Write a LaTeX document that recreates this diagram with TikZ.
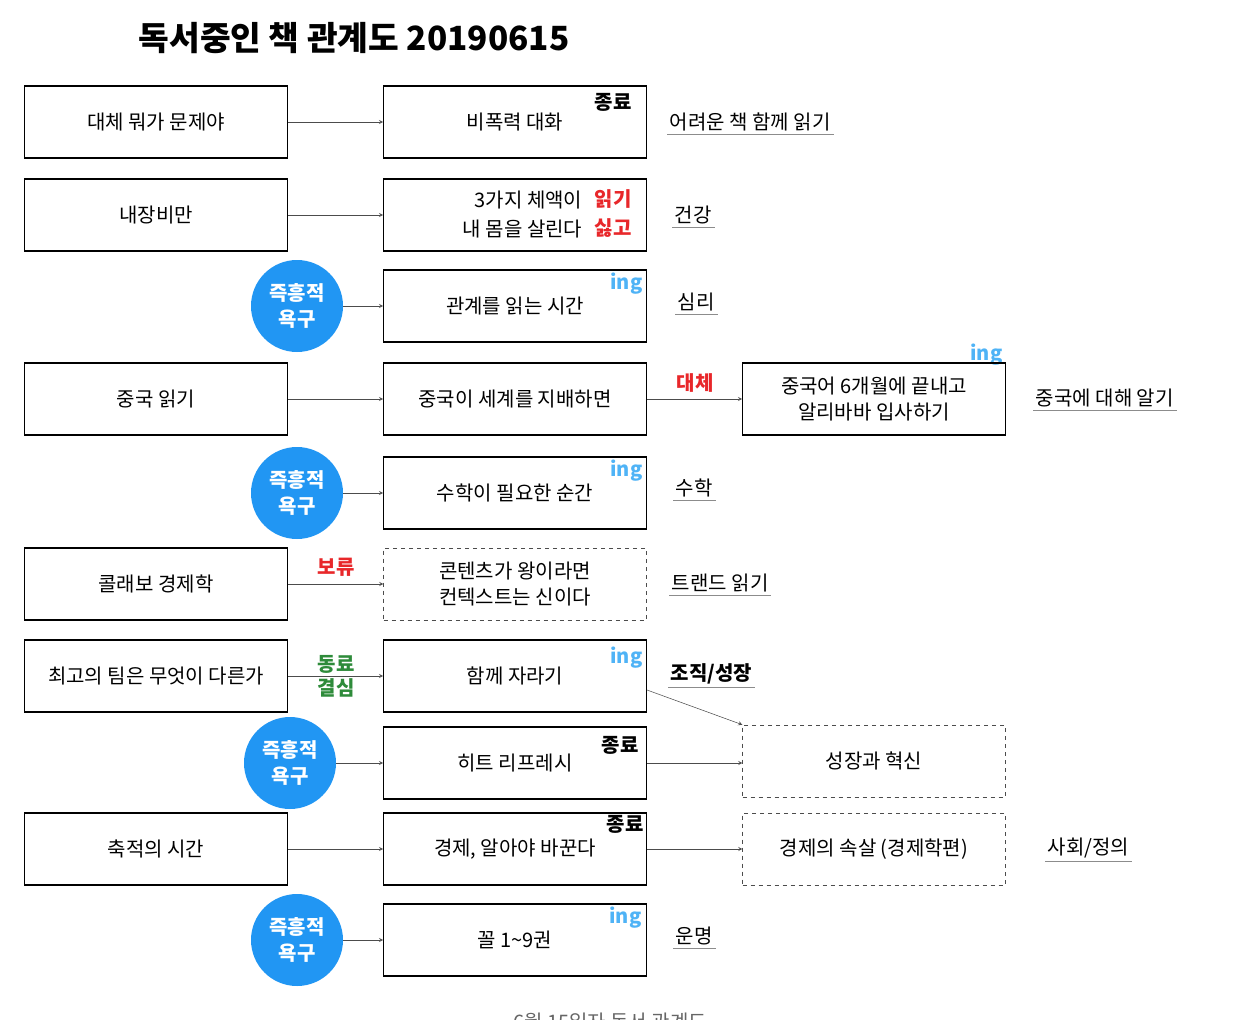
\documentclass[tikz,border=0pt]{standalone}
\usepackage{fontspec}
\setmainfont{Noto Sans CJK KR}
\definecolor{cblue}{HTML}{2196F3}
\definecolor{ingblue}{HTML}{4FB3F6}
\definecolor{kred}{HTML}{E8272A}
\definecolor{kgreen}{HTML}{2E8B3A}
\begin{document}
\begin{tikzpicture}[x=0.75pt,y=-0.75pt,font=\fontsize{15}{19}\selectfont,
 bx/.style={draw,thick,minimum width=197pt,minimum height=54pt,align=center,inner sep=0pt},
 dbx/.style={bx,dashed,thin,draw=black!70},
 circ/.style={circle,fill=cblue,text=white,minimum size=69pt,inner sep=0pt,align=center,font=\fontsize{15}{19}\selectfont\bfseries},
 arr/.style={->,>=stealth,black!70},
 tag/.style={font=\fontsize{15}{18}\selectfont\bfseries,anchor=north east,inner sep=1pt},
]
\useasboundingbox (0,0) rectangle (1234,1020);
\node[font=\fontsize{25}{29}\selectfont\bfseries] (title) at (354,38) {독서중인 책 관계도 20190615};
% left
\node[bx] (l1) at (156,122) {대체 뭐가 문제야};
\node[bx] (l2) at (156,215) {내장비만};
\node[bx] (l4) at (156,399) {중국 읽기};
\node[bx] (l6) at (156,584) {콜래보 경제학};
\node[bx] (l7) at (156,676) {최고의 팀은 무엇이 다른가};
\node[bx] (l9) at (156,849) {축적의 시간};
% circles
\node[circ] (c3) at (297,306) {즉흥적\\욕구};
\node[circ] (c5) at (297,493) {즉흥적\\욕구};
\node[circ] (c8) at (290,763) {즉흥적\\욕구};
\node[circ] (c10) at (297,940) {즉흥적\\욕구};
% middle
\node[bx] (m1) at (515,122) {비폭력 대화};
\node[bx] (m2) at (515,215) {};
\node[anchor=east] (m2a) at (587,200) {3가지 체액이};
\node[anchor=east] (m2b) at (587,229) {내 몸을 살린다};
\node[bx] (m3) at (515,306) {관계를 읽는 시간};
\node[bx] (m4) at (515,399) {중국이 세계를 지배하면};
\node[bx] (m5) at (515,493) {수학이 필요한 순간};
\node[dbx] (m6) at (515,584) {콘텐츠가 왕이라면\\컨텍스트는 신이다};
\node[bx] (m7) at (515,676) {함께 자라기};
\node[bx] (m8) at (515,763) {히트 리프레시};
\node[bx] (m9) at (515,849) {경제, 알아야 바꾼다};
\node[bx] (m10) at (515,940) {꼴 1\textasciitilde9권};
% tags
\node[tag] at (633,92) {종료};
\node[tag,text=kred,anchor=east] at (633,199) {읽기};
\node[tag,text=kred,anchor=east] at (633,228) {싫고};
\node[tag,text=ingblue] at (644,271) {ing};
\node[tag,text=ingblue] at (644,458) {ing};
\node[tag,text=ingblue] at (644,645) {ing};
\node[tag] at (640,735) {종료};
\node[tag] at (645,814) {종료};
\node[tag,text=ingblue] at (643,905) {ing};
\node[tag,text=ingblue] at (1004,342) {ing};
\node[tag,text=kred,anchor=center] at (695,383) {대체};
\node[tag,text=kred,anchor=center] at (336,567) {보류};
\node[tag,text=kgreen,anchor=center,align=center] at (336,676) {동료\\결심};
% right boxes
\node[bx] (r4) at (874,399) {중국어 6개월에 끝내고\\알리바바 입사하기};
\node[dbx] (r8) at (874,761) {성장과 혁신};
\node[dbx] (r9) at (874,849) {경제의 속살 (경제학편)};
% arrows
\foreach \a/\b in {l1/m1,l2/m2,c3/m3,l4/m4,c5/m5,l6/m6,l7/m7,c8/m8,l9/m9,c10/m10,m4/r4,m9/r9}
  \draw[arr] (\a) -- (\b);
\draw[arr] (m8.east) -- (m8.east -| r8.west);
\coordinate (s7) at (647,690);
\draw[arr] (s7) -- (r8.north west);
% labels
\foreach \t/\x/\y/\n in {어려운 책 함께 읽기/667/122/t1,건강/672/215/t2,심리/675/302/t3,중국에 대해 알기/1033/398/t4,수학/673/488/t5,트랜드 읽기/669/583/t6,{사회/정의}/1045/848/t9,운명/673/936/t10}{
  \node[anchor=west,inner sep=2pt] (\n) at (\x,\y) {\t};
  \draw[black!45] (\n.south west) -- (\n.south east);}
\node[anchor=west,inner sep=2pt,font=\fontsize{15}{19}\selectfont\bfseries] (t7) at (668,674) {조직/성장};
\draw[black!45] (t7.south west) -- (t7.south east);
\node[text=black!60] (cap) at (610,1022) {6월 15일자 독서 관계도};
\end{tikzpicture}
\end{document}
